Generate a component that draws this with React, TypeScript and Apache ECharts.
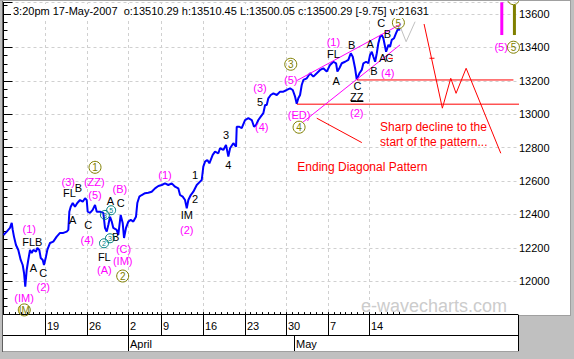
import React, { useEffect, useRef } from "react";
import * as echarts from "echarts";

const FONT = "'Liberation Sans', Arial, Helvetica, sans-serif";

// trading days shown on the time axis (index = position in trading days)
const tradingDays = [
  "03-12", "03-13", "03-14", "03-15", "03-16",
  "03-19", "03-20", "03-21", "03-22", "03-23",
  "03-26", "03-27", "03-28", "03-29", "03-30",
  "04-02", "04-03", "04-04", "04-05",
  "04-09", "04-10", "04-11", "04-12", "04-13",
  "04-16", "04-17", "04-18", "04-19", "04-20",
  "04-23", "04-24", "04-25", "04-26", "04-27",
  "04-30", "05-01", "05-02", "05-03", "05-04",
  "05-07", "05-08", "05-09", "05-10", "05-11",
  "05-14", "05-15", "05-16", "05-17",
];
const weekTickDates = ["03-19", "03-26", "04-02", "04-09", "04-16", "04-23", "04-30", "05-07", "05-14"];
const weekTickLabels = ["19", "26", "2", "9", "16", "23", "30", "7", "14"];
const monthTickDates = ["04-02", "05-01"];
const monthTickLabels = ["April", "May"];

const Y_MIN = 11800;
const Y_MAX = 13670;
const Y_STEP = 200;
const X_MAX = 61.9;

const titleText =
  "3:20pm 17-May-2007 \u00a0o:13510.29 h:13510.45 L:13500.05 c:13500.29 [-9.75] v:21631";

// intraday price path (time in trading days since 12-Mar open)
const priceTime = [
  0.0, 0.39, 0.78, 0.99, 1.11, 1.26, 1.5, 1.78, 2.07, 2.31,
  2.47, 2.62, 2.79, 2.98, 3.19, 3.39, 3.59, 3.91, 4.07, 4.31,
  4.48, 4.72, 4.87, 5.11, 5.27, 5.6, 5.99, 6.4, 6.8, 7.2,
  7.61, 7.8, 7.92, 8.09, 8.33, 8.6, 8.88, 9.21, 9.53, 9.81,
  10.01, 10.13, 10.41, 10.73, 11.01, 11.22, 11.61, 12.01, 12.21, 12.42,
  12.61, 12.82, 13.02, 13.21, 13.62, 13.81, 14.1, 14.34, 14.5, 14.74,
  15.02, 15.31, 15.62, 15.94, 16.1, 16.34, 16.63, 17.03, 17.42, 17.83,
  18.23, 18.63, 19.04, 19.43, 19.83, 20.24, 20.64, 21.03, 21.24, 21.56,
  21.84, 22.05, 22.24, 22.53, 22.84, 23.25, 23.65, 23.85, 24.04, 24.25,
  24.52, 24.77, 25.17, 25.45, 25.85, 26.05, 26.45, 26.77, 27.05, 27.26,
  27.65, 27.98, 28.06, 28.38, 28.66, 29.06, 29.46, 29.87, 30.14, 30.39,
  30.66, 30.95, 31.26, 31.47, 31.67, 31.86, 32.15, 32.47, 32.88, 33.27,
  33.67, 34.08, 34.48, 34.8, 35.08, 35.28, 35.47, 35.68, 35.88, 36.08,
  36.49, 36.88, 37.28, 37.69, 38.09, 38.48, 38.89, 39.29, 39.69, 40.01,
  40.17, 40.41, 40.7, 41.1, 41.49, 41.78, 42.02, 42.3, 42.5, 42.82,
  43.1, 43.3, 43.62, 43.9, 44.1, 44.31, 44.5, 44.71, 44.91, 45.1,
  45.31, 45.51, 45.7, 45.91, 46.03, 46.31, 46.51, 46.71, 46.99, 47.23,
  47.39, 47.59, 47.62,
];
const priceValue = [
  12277, 12297, 12319, 12349, 12307, 12267, 12217, 12187, 12127, 12097,
  12049, 11967, 12067, 12127, 12187, 12169, 12187, 12177, 12199, 12187,
  12139, 12127, 12097, 12147, 12187, 12229, 12237, 12267, 12289, 12289,
  12297, 12307, 12416, 12446, 12468, 12446, 12468, 12486, 12476, 12497,
  12486, 12416, 12409, 12427, 12457, 12416, 12416, 12409, 12319, 12297,
  12337, 12386, 12357, 12319, 12307, 12277, 12397, 12349, 12259, 12319,
  12357, 12367, 12357, 12386, 12468, 12506, 12516, 12527, 12530, 12536,
  12556, 12570, 12576, 12586, 12576, 12586, 12566, 12556, 12516, 12506,
  12486, 12437, 12486, 12516, 12536, 12576, 12596, 12606, 12686, 12716,
  12726, 12706, 12756, 12776, 12766, 12796, 12786, 12816, 12746, 12796,
  12826, 12806, 12925, 12925, 12916, 12965, 12976, 12965, 12925, 12936,
  12965, 12985, 13006, 13055, 13055, 13095, 13115, 13125, 13115, 13135,
  13135, 13145, 13155, 13145, 13105, 13062, 13095, 13115, 13175, 13205,
  13215, 13245, 13225, 13245, 13265, 13275, 13255, 13295, 13314, 13305,
  13255, 13275, 13305, 13314, 13325, 13365, 13344, 13275, 13207, 13245,
  13265, 13305, 13314, 13305, 13355, 13374, 13344, 13314, 13365, 13425,
  13464, 13474, 13455, 13404, 13374, 13415, 13404, 13445, 13455, 13485,
  13504, 13515, 13500,
];

// annotation lines
const upperTrend = [[35.32, 13202], [47.83, 13540]];
const lowerTrend = [[36.04, 12953], [47.71, 13415]];
const supportC = [[42.5, 13205], [61.35, 13205]];
const supportED = [[35.3, 13060], [67.3, 13060]];
const projection = [[50.6, 13540], [52.8, 13036], [53.81, 13215], [54.45, 13125], [55.66, 13275], [59.83, 12766]];
const projectionTick = [[51.25, 13335], [51.85, 13335]];
const pointerLine = [[37.69, 12976], [43.11, 12830]];
const grayV = [[47.8, 13515], [48.44, 13434], [49.52, 13554]];
const magentaBar = [[59.95, 13670], [59.95, 13474]];
const oliveBar = [[61.47, 13654], [61.47, 13474]];
const zzUnderline = [[41.78, 13076], [43.3, 13076]];
const acMark = [[46.3, 13334], [46.85, 13334]];

type Lab = { text: string; kind: string; day: number; price: number };
const waveLabels: Lab[] = [
  // magenta
  { text: "(1)", kind: "m", day: 3.1, price: 12311 },
  { text: "(2)", kind: "m", day: 4.79, price: 11967 },
  { text: "(IM)", kind: "m", day: 2.47, price: 11898 },
  { text: "(3)", kind: "m", day: 7.8, price: 12596 },
  { text: "(ZZ)", kind: "m", day: 10.93, price: 12596 },
  { text: "(5)", kind: "m", day: 11.01, price: 12516 },
  { text: "(4)", kind: "m", day: 10.08, price: 12247 },
  { text: "(B)", kind: "m", day: 14.0, price: 12555 },
  { text: "(C)", kind: "m", day: 14.45, price: 12195 },
  { text: "(IM)", kind: "m", day: 14.34, price: 12121 },
  { text: "(A)", kind: "m", day: 12.13, price: 12067 },
  { text: "(1)", kind: "m", day: 19.43, price: 12636 },
  { text: "(2)", kind: "m", day: 22.05, price: 12307 },
  { text: "(3)", kind: "m", day: 30.87, price: 13155 },
  { text: "(4)", kind: "m", day: 31.07, price: 12925 },
  { text: "(5)", kind: "m", day: 34.56, price: 13205 },
  { text: "(ED)", kind: "m", day: 35.56, price: 12995 },
  { text: "(1)", kind: "m", day: 39.69, price: 13434 },
  { text: "(2)", kind: "m", day: 42.5, price: 13009 },
  { text: "(4)", kind: "m", day: 46.23, price: 13245 },
  { text: "(5)", kind: "m", day: 59.87, price: 13401 },
  // black
  { text: "FLB", kind: "k", day: 3.47, price: 12237 },
  { text: "A", kind: "k", day: 3.59, price: 12077 },
  { text: "C", kind: "k", day: 4.79, price: 12047 },
  { text: "FL", kind: "k", day: 7.92, price: 12527 },
  { text: "B", kind: "k", day: 9.0, price: 12556 },
  { text: "A", kind: "k", day: 8.33, price: 12367 },
  { text: "C", kind: "k", day: 10.2, price: 12337 },
  { text: "A", kind: "k", day: 12.85, price: 12480 },
  { text: "C", kind: "k", day: 14.1, price: 12467 },
  { text: "FL", kind: "k", day: 12.13, price: 12143 },
  { text: "B", kind: "k", day: 13.5, price: 12262 },
  { text: "IM", kind: "k", day: 22.05, price: 12397 },
  { text: "1", kind: "k", day: 23.04, price: 12636 },
  { text: "2", kind: "k", day: 23.04, price: 12492 },
  { text: "3", kind: "k", day: 26.77, price: 12876 },
  { text: "4", kind: "k", day: 27.05, price: 12696 },
  { text: "5", kind: "k", day: 30.87, price: 13075 },
  { text: "FL", kind: "k", day: 39.69, price: 13359 },
  { text: "A", kind: "k", day: 40.01, price: 13201 },
  { text: "B", kind: "k", day: 41.9, price: 13415 },
  { text: "C", kind: "k", day: 42.58, price: 13169 },
  { text: "ZZ", kind: "k", day: 42.5, price: 13100 },
  { text: "A", kind: "k", day: 44.1, price: 13421 },
  { text: "B", kind: "k", day: 44.58, price: 13261 },
  { text: "C", kind: "k", day: 45.43, price: 13545 },
  { text: "B", kind: "k", day: 46.2, price: 13478 },
  { text: "A", kind: "k", day: 45.62, price: 13335 },
  { text: "C", kind: "k", day: 46.42, price: 13335 },
  // olive circled
  { text: "IM", kind: "o", day: 2.5, price: 11828 },
  { text: "1", kind: "o", day: 11.01, price: 12682 },
  { text: "2", kind: "o", day: 14.34, price: 12031 },
  { text: "3", kind: "o", day: 34.56, price: 13299 },
  { text: "4", kind: "o", day: 35.56, price: 12922 },
  { text: "5", kind: "o", day: 47.51, price: 13548 },
  { text: "5", kind: "o", day: 61.35, price: 13401 },
  { text: "", kind: "o", day: 61.35, price: 13692 },
  // teal circled
  { text: "3", kind: "t", day: 12.2, price: 12397 },
  { text: "5", kind: "t", day: 12.95, price: 12425 },
  { text: "2", kind: "t", day: 12.09, price: 12227 },
  { text: "3", kind: "t", day: 12.81, price: 12257 },
  // red comments
  { text: "Sharp decline to the", kind: "r", day: 45.31, price: 12922 },
  { text: "start of the pattern...", kind: "r", day: 45.31, price: 12836 },
  { text: "Ending Diagonal Pattern", kind: "r", day: 35.35, price: 12686 },
];

const labelStyles: Record<string, { color: string; font: string; r?: number }> = {
  m: { color: "#ff00ff", font: `11px ${FONT}` },
  k: { color: "#000000", font: `11px ${FONT}` },
  o: { color: "#808000", font: `10px ${FONT}`, r: 6 },
  t: { color: "#008080", font: `7px ${FONT}`, r: 4.5 },
  r: { color: "#ff0000", font: `12px ${FONT}` },
};

function dayIndex(d: string) {
  return tradingDays.indexOf(d);
}

function buildMinorTicks() {
  const starts = [0, ...weekTickDates.map(dayIndex)];
  starts.push(starts[starts.length - 1] + 5);
  const last = priceTime[priceTime.length - 1];
  const out: number[] = [];
  for (let i = 0; i < starts.length - 1; i++) {
    const span = starts[i + 1] - starts[i];
    for (let k = 1; k <= 6; k++) {
      const p = starts[i] + (k * span) / 7;
      if (p <= last) out.push(p);
    }
  }
  return out;
}

function lineSeries(data: number[][], color: string, width: number, extra: any = {}) {
  return {
    type: "line",
    data,
    symbol: "none",
    showSymbol: false,
    silent: true,
    lineStyle: { color, width },
    itemStyle: { color },
    z: 4,
    ...extra,
  };
}

export default function App() {
  const ref = useRef<HTMLDivElement>(null);

  useEffect(() => {
    document.body.style.margin = "0";
    if (!ref.current) return;
    const chart = echarts.init(ref.current, null, { renderer: "svg" });
    const minorTicks = buildMinorTicks();
    const priceData = priceTime.map((t, i) => [t, priceValue[i]]);

    chart.setOption({
      animation: false,
      backgroundColor: "#ffffff",
      title: {
        text: titleText,
        left: 11,
        top: 4,
        padding: [1, 2],
        backgroundColor: "#ffffff",
        textStyle: { fontSize: 11, fontWeight: "normal", color: "#000", fontFamily: FONT, lineHeight: 12 },
      },
      grid: { left: 3.5, right: 56, top: 2.3, bottom: 44.4, containLabel: false },
      xAxis: {
        type: "value",
        min: 0,
        max: X_MAX,
        axisLine: { show: true, onZero: false, lineStyle: { color: "#000", width: 1 } },
        axisTick: { show: false },
        axisLabel: { show: false },
        splitLine: { show: false },
      },
      yAxis: {
        type: "value",
        position: "right",
        min: Y_MIN,
        max: Y_MAX,
        interval: Y_STEP,
        axisLine: { show: true, lineStyle: { color: "#000", width: 1 } },
        axisTick: { show: true, length: 9, lineStyle: { color: "#000" } },
        minorTick: { show: true, splitNumber: 4, length: 4, lineStyle: { color: "#000" } },
        axisLabel: {
          margin: 1,
          color: "#000",
          fontSize: 11,
          fontFamily: FONT,
          showMinLabel: false,
          showMaxLabel: false,
          formatter: (v: number) => String(v),
        },
        splitLine: { show: true, lineStyle: { color: "#d0d0d0", type: [3, 3], width: 1 } },
      },
      series: [
        // week ticks + vertical dashed grid + labels
        {
          type: "custom",
          silent: true,
          z: 1,
          data: weekTickDates.map((d, i) => [dayIndex(d), Y_MIN, i]),
          renderItem: (params: any, api: any) => {
            const cs = params.coordSys;
            const bottom = cs.y + cs.height;
            const x = Math.round(api.coord([api.value(0), Y_MIN])[0]) + 0.5;
            return {
              type: "group",
              children: [
                { type: "line", shape: { x1: x, y1: 3, x2: x, y2: bottom }, style: { stroke: "#d0d0d0", lineDash: [3, 3], lineWidth: 1 } },
                { type: "line", shape: { x1: x, y1: bottom - 2.5, x2: x, y2: 335 }, style: { stroke: "#000", lineWidth: 1 } },
                { type: "text", style: { text: weekTickLabels[api.value(2)], x: x + 1.5, y: 326, fill: "#000", font: `11px ${FONT}`, align: "left", verticalAlign: "middle" } },
              ],
            };
          },
        },
        // month ticks
        {
          type: "custom",
          silent: true,
          z: 1,
          data: monthTickDates.map((d, i) => [dayIndex(d), Y_MIN, i]),
          renderItem: (params: any, api: any) => {
            const x = Math.round(api.coord([api.value(0), Y_MIN])[0]) + 0.5;
            return {
              type: "group",
              children: [
                { type: "line", shape: { x1: x, y1: 335, x2: x, y2: 351 }, style: { stroke: "#000", lineWidth: 1 } },
                { type: "text", style: { text: monthTickLabels[api.value(2)], x: x + 1.5, y: 343.5, fill: "#000", font: `11px ${FONT}`, align: "left", verticalAlign: "middle" } },
              ],
            };
          },
        },
        // minor ticks
        {
          type: "custom",
          silent: true,
          z: 1,
          data: minorTicks.map((d) => [d, Y_MIN]),
          renderItem: (params: any, api: any) => {
            const cs = params.coordSys;
            const bottom = cs.y + cs.height;
            const x = Math.round(api.coord([api.value(0), Y_MIN])[0]) + 0.5;
            return { type: "line", shape: { x1: x, y1: bottom - 2.5, x2: x, y2: bottom }, style: { stroke: "#000", lineWidth: 1 } };
          },
        },
        lineSeries(supportC, "#ff0000", 1),
        lineSeries(supportED, "#ff0000", 1, { clip: false }),
        lineSeries(projection, "#ff0000", 1),
        lineSeries(projectionTick, "#ff0000", 1),
        lineSeries(pointerLine, "#ff0000", 1),
        lineSeries(acMark, "#ff0000", 1),
        lineSeries(grayV, "#c0c0c0", 1),
        lineSeries(upperTrend, "#ff00ff", 1),
        lineSeries(lowerTrend, "#ff00ff", 1),
        lineSeries(zzUnderline, "#000000", 1),
        lineSeries(magentaBar, "#ff00ff", 3, { clip: false }),
        lineSeries(oliveBar, "#808000", 3, { clip: false }),
        lineSeries(priceData, "#0000ff", 2, { z: 3 }),
        // wave labels
        {
          type: "custom",
          silent: true,
          z: 5,
          data: waveLabels.map((l, i) => [l.day, l.price, i]),
          renderItem: (params: any, api: any) => {
            const l = waveLabels[api.value(2)];
            const pt = api.coord([api.value(0), api.value(1)]);
            const st = labelStyles[l.kind];
            if (l.kind === "o" || l.kind === "t") {
              const children: any[] = [
                { type: "circle", shape: { cx: pt[0], cy: pt[1], r: st.r }, style: { fill: "none", stroke: st.color, lineWidth: 1 } },
              ];
              if (l.text) {
                children.push({ type: "text", style: { text: l.text, x: pt[0], y: pt[1] + 0.5, fill: st.color, font: st.font, align: "center", verticalAlign: "middle" } });
              }
              return { type: "group", children };
            }
            return {
              type: "text",
              style: { text: l.text, x: pt[0], y: pt[1], fill: st.color, font: st.font, align: l.kind === "r" ? "left" : "center", verticalAlign: "middle" },
            };
          },
        },
      ],
      graphic: [
        { type: "text", z: 1, silent: true, style: { text: "e-wavecharts.com", x: 361, y: 306, fill: "#cccccc", font: `18px ${FONT}`, align: "left", verticalAlign: "middle" } },
        { type: "line", z: 90, silent: true, shape: { x1: 2.5, y1: 335.5, x2: 518.5, y2: 335.5 }, style: { stroke: "#000", lineWidth: 1 } },
        { type: "line", z: 90, silent: true, shape: { x1: 518.5, y1: 315, x2: 518.5, y2: 352 }, style: { stroke: "#000", lineWidth: 1 } },
        { type: "rect", z: 100, silent: true, shape: { x: 519, y: 315.5, width: 55, height: 44 }, style: { fill: "#c0c0c0" } },
        { type: "rect", z: 100, silent: true, shape: { x: 0, y: 352, width: 574, height: 7 }, style: { fill: "#c0c0c0" } },
        { type: "line", z: 100, silent: true, shape: { x1: 2, y1: 351.5, x2: 519, y2: 351.5 }, style: { stroke: "#a0a0a0", lineWidth: 1 } },
        { type: "rect", z: 100, silent: true, shape: { x: 571, y: 0, width: 3, height: 359 }, style: { fill: "#c0c0c0" } },
        { type: "line", z: 100, silent: true, shape: { x1: 570.5, y1: 0, x2: 570.5, y2: 316 }, style: { stroke: "#a0a0a0", lineWidth: 1 } },
        { type: "line", z: 100, silent: true, shape: { x1: 519, y1: 315.5, x2: 571, y2: 315.5 }, style: { stroke: "#a0a0a0", lineWidth: 1 } },
        { type: "rect", z: 100, silent: true, shape: { x: 519, y: 0, width: 12, height: 3.5 }, style: { fill: "#ffffff" } },
        { type: "rect", z: 100, silent: true, shape: { x: 0, y: 0, width: 2, height: 359 }, style: { fill: "#c0c0c0" } },
        { type: "line", z: 100, silent: true, shape: { x1: 2.5, y1: 0, x2: 2.5, y2: 352 }, style: { stroke: "#606060", lineWidth: 1 } },
        { type: "line", z: 100, silent: true, shape: { x1: 0, y1: 0.5, x2: 571, y2: 0.5 }, style: { stroke: "#a0a0a0", lineWidth: 1 } },
      ],
    });
    return () => chart.dispose();
  }, []);

  return <div ref={ref} style={{ width: 574, height: 359 }} />;
}
